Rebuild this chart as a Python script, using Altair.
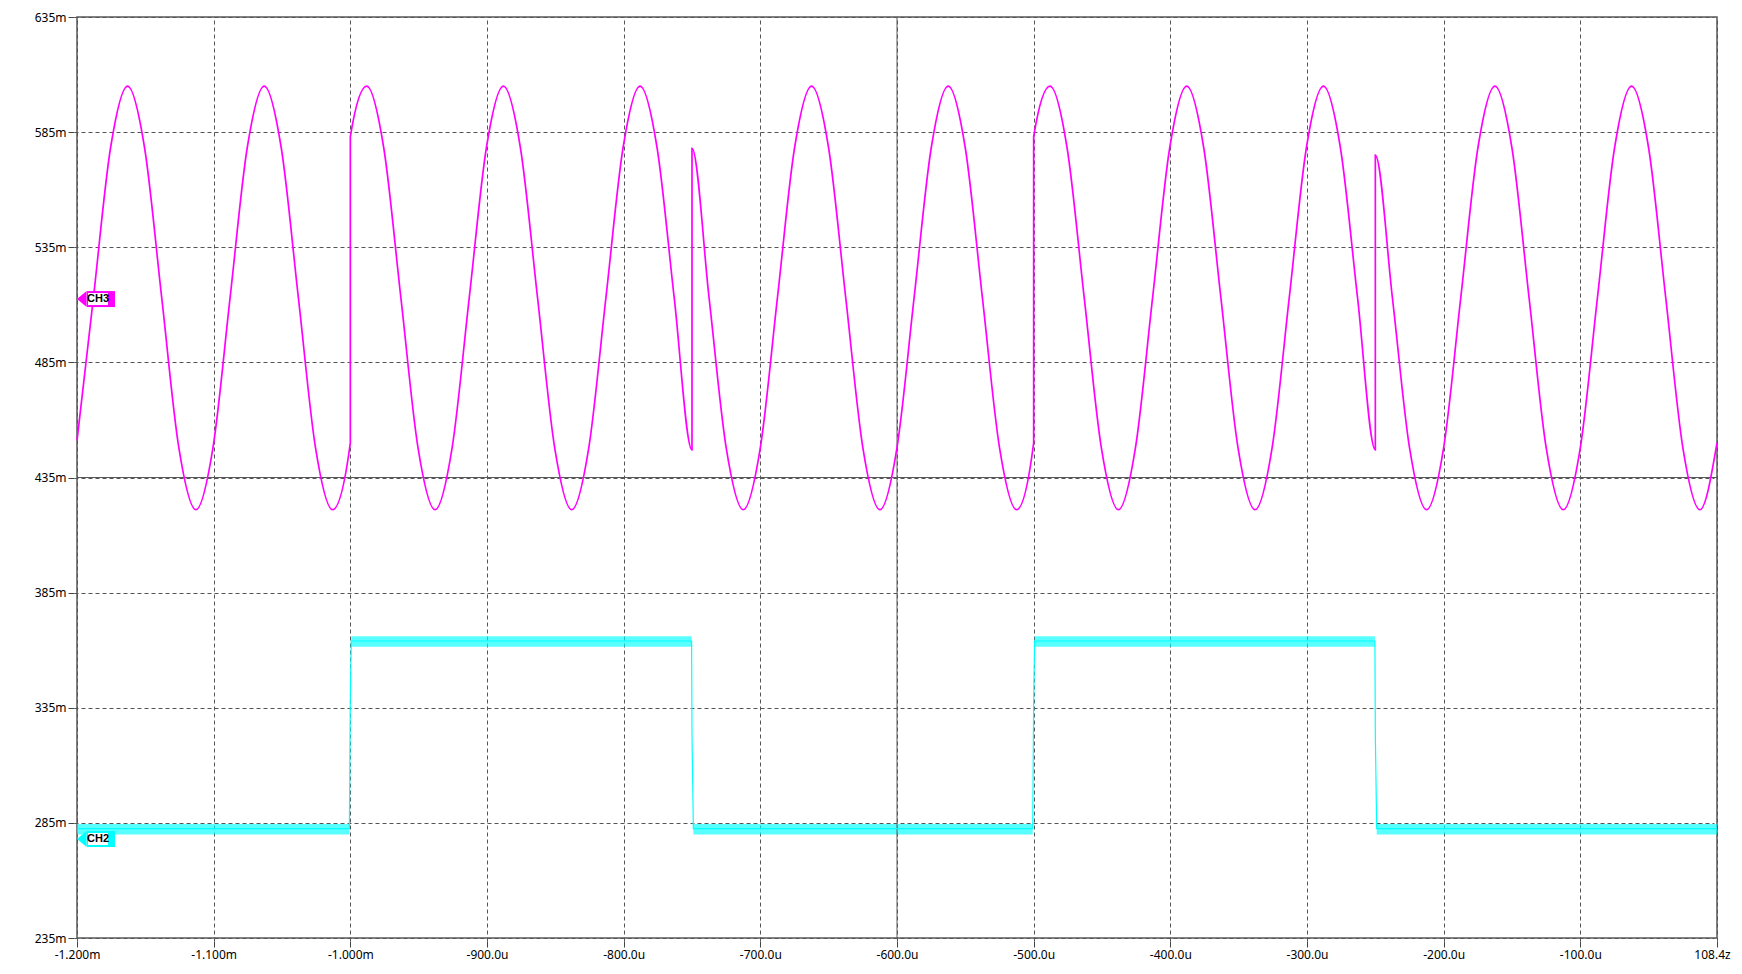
import altair as alt
import pandas as pd

# ---- axis ticks (time in microseconds, level in millivolts) ----
x_tick_values = [-1200, -1100, -1000, -900, -800, -700, -600, -500, -400, -300, -200, -100, 0]
x_tick_labels = ["-1.200m", "-1.100m", "-1.000m", "-900.0u", "-800.0u", "-700.0u", "-600.0u",
                 "-500.0u", "-400.0u", "-300.0u", "-200.0u", "-100.0u", "108.4z"]
y_tick_values = [235, 285, 335, 385, 435, 485, 535, 585, 635]
y_tick_labels = ["235m", "285m", "335m", "385m", "435m", "485m", "535m", "585m", "635m"]

# ---- CH3 (magenta) trace ----
ch3_time = [
    -1200, -1188, -1175.5, -1163, -1150.5, -1138, -1125.5, -1113, -1100.5, -1088, -1075.5, -1063,
    -1050.5, -1038, -1025.5, -1013, -1000,
    -1000, -988, -975.5, -963, -950.5, -938, -925.5, -913, -900.5, -888, -875.5, -863, -850.5,
    -838, -825.5, -813, -800.5, -788, -775.5, -763, -750,
    -750, -737.5, -725, -712.5, -700, -687.5, -675, -662.5, -650, -637.5, -625, -612.5, -600,
    -587.5, -575, -562.5, -550, -537.5, -525, -512.5, -500,
    -500, -488, -475.5, -463, -450.5, -438, -425.5, -413, -400.5, -388, -375.5, -363, -350.5,
    -338, -325.5, -313, -300.5, -288, -275.5, -263, -250,
    -250, -237.5, -225, -212.5, -200, -187.5, -175, -162.5, -150, -137.5, -125, -112.5, -100,
    -87.5, -75, -62.5, -50, -37.5, -25, -12.5, 0,
]
ch3_mv = [
    451, 513, 578, 605, 578, 513, 448, 421, 448, 513, 578, 605,
    578, 513, 448, 421, 450,
    583, 605, 578, 513, 448, 421, 448, 513, 578, 605, 578, 513, 448,
    421, 448, 513, 578, 605, 578, 513, 447,
    578, 513, 448, 421, 448, 513, 578, 605, 578, 513, 448, 421, 448,
    513, 578, 605, 578, 513, 448, 421, 450,
    583, 605, 578, 513, 448, 421, 448, 513, 578, 605, 578, 513, 448,
    421, 448, 513, 578, 605, 578, 513, 447,
    575, 513, 448, 421, 448, 513, 578, 605, 578, 513, 448, 421, 448,
    513, 578, 605, 578, 513, 448, 421, 450,
]

# ---- CH2 (cyan) square wave ----
ch2_time = [-1200, -1000.7, -1000.0, -999.3, -750.3, -750.0, -749.0,
            -500.7, -500.0, -499.3, -250.3, -250.0, -249.0, 0]
ch2_mv = [282.5, 282.5, 340, 364, 364, 323, 282.5,
          282.5, 338, 364, 364, 323, 282.5, 282.5]

# ripple envelope of CH2 on each flat stretch
band_start = [-1200, -999.3, -749.0, -499.3, -249.0]
band_end = [-1000.7, -750.3, -500.7, -250.3, 0]
band_low = [280.0, 361.5, 280.0, 361.5, 280.0]
band_high = [284.5, 366.0, 284.5, 366.0, 284.5]

# ---- centre lines ----
center_time = [-600]
center_level = [435]

# ---- channel markers ----
marker_names = ["CH3", "CH2"]
marker_time = [-1200, -1200]
marker_levels = [512.5, 278.0]
marker_colors = ["#ff00ff", "#00ffff"]

ch3_df = pd.DataFrame({"t": ch3_time, "v": ch3_mv, "i": list(range(len(ch3_time)))})
ch2_df = pd.DataFrame({"t": ch2_time, "v": ch2_mv, "i": list(range(len(ch2_time)))})
band_df = pd.DataFrame({"t0": band_start, "t1": band_end, "lo": band_low, "hi": band_high})
cx_df = pd.DataFrame({"t": center_time})
cy_df = pd.DataFrame({"v": center_level})
mk_df = pd.DataFrame({"name": marker_names, "t": marker_time, "v": marker_levels, "c": marker_colors})


def label_expr(vals, labels):
    expr = "''"
    for v, l in reversed(list(zip(vals, labels))):
        expr = f"datum.value == {v} ? '{l}' : ({expr})"
    return expr


x_scale = alt.Scale(domain=[-1200, 0], nice=False, zero=False)
y_scale = alt.Scale(domain=[235, 635], nice=False, zero=False)
x_axis = alt.Axis(values=x_tick_values, labelExpr=label_expr(x_tick_values, x_tick_labels),
                  title=None, grid=True, labelFlush=False, labelOverlap=False,
                  labelOffset={"condition": {"test": f"datum.value == {x_tick_values[-1]}", "value": -5},
                               "value": 0})
y_axis = alt.Axis(values=y_tick_values, labelExpr=label_expr(y_tick_values, y_tick_labels),
                  title=None, grid=True, labelFlush=False, labelOverlap=False)


def X(field):
    return alt.X(field, type="quantitative", scale=x_scale, axis=x_axis, title=None)


def Y(field):
    return alt.Y(field, type="quantitative", scale=y_scale, axis=y_axis, title=None)


band = alt.Chart(band_df).mark_rect(color="#00ffff", opacity=0.65).encode(
    x=X("t0"), x2="t1", y=Y("lo"), y2="hi")

cx = alt.Chart(cx_df).mark_rule(color="#5a5a5a", strokeWidth=1).encode(x=X("t"))
cy = alt.Chart(cy_df).mark_rule(color="#5a5a5a", strokeWidth=1).encode(y=Y("v"))

ch2 = alt.Chart(ch2_df).mark_line(color="#00ffff", strokeWidth=1.2).encode(
    x=X("t"), y=Y("v"), order=alt.Order("i:Q"))

ch3 = alt.Chart(ch3_df).mark_line(color="#ff00ff", strokeWidth=1.7, interpolate="monotone").encode(
    x=X("t"), y=Y("v"), order=alt.Order("i:Q"))

tri = alt.Chart(mk_df).mark_point(
    shape="M -0.6 0 L 0.6 -1 L 0.6 1 Z", size=256, filled=True, opacity=1, xOffset=4.8
).encode(x=X("t"), y=Y("v"), color=alt.Color("c:N", scale=None))

box = alt.Chart(mk_df).mark_rect(width=28, height=16, xOffset=24).encode(
    x=X("t"), y=Y("v"), color=alt.Color("c:N", scale=None))

inner = alt.Chart(mk_df).mark_rect(width=20, height=12, xOffset=21, color="white").encode(
    x=X("t"), y=Y("v"))

txt = alt.Chart(mk_df).mark_text(
    font="Liberation Sans", fontSize=11, fontWeight="bold", color="black",
    dx=21, align="center", baseline="middle"
).encode(x=X("t"), y=Y("v"), text="name:N")

chart = alt.layer(band, cx, cy, ch2, ch3, tri, box, inner, txt).properties(
    width=1640, height=921,
    padding={"left": 69, "top": 9, "right": 17, "bottom": 23},
    autosize=alt.AutoSizeParams(type="none"),
    background="white",
).configure_view(
    stroke="#5a5a5a", strokeWidth=1.5
).configure_axis(
    domain=False,
    gridColor="#555555", gridDash=[4, 3], gridWidth=1, gridOpacity=1,
    tickColor="#444444", tickSize=6, tickWidth=1, offset=3,
    labelFont="Noto Sans", labelFontSize=12, labelColor="#000000", labelPadding=2,
)

chart.save("out.html", embed_options={"renderer": "svg", "actions": False})
